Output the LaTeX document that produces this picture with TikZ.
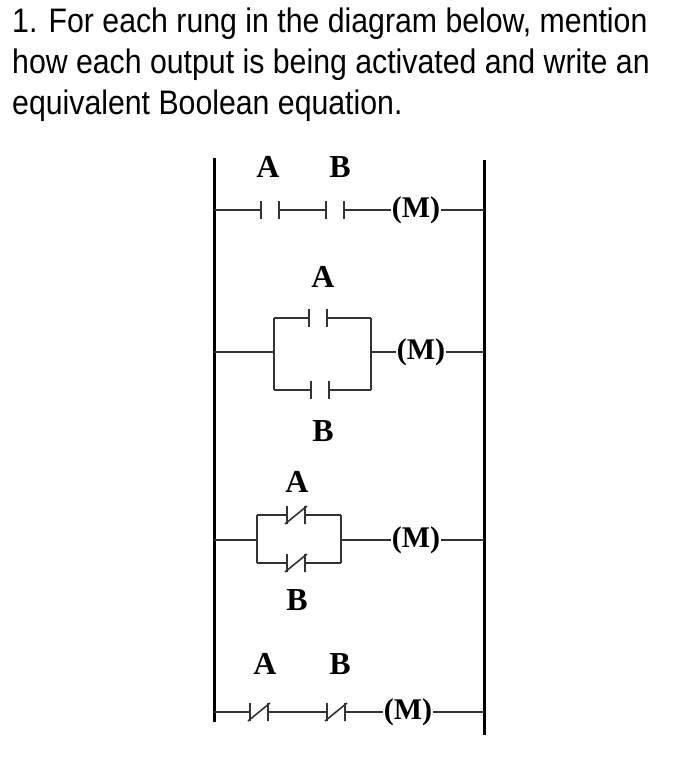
\documentclass[tikz,border=0pt]{standalone}
\usepackage{fontspec}
\setmainfont[FakeStretch=0.89]{Liberation Sans}
\newfontfamily\lserif{Liberation Serif}
\begin{document}
\begin{tikzpicture}[x=1pt,y=-1pt,
  wire/.style={line width=1.6pt,color=black!80},
  rail/.style={line width=3pt},
  lbl/.style={font=\lserif\bfseries\fontsize{32}{32}\selectfont,inner sep=0},
  coil/.style={font=\lserif\bfseries\fontsize{30}{30}\selectfont,inner sep=1pt},
  head/.style={anchor=north west,align=left,inner sep=0,font=\fontsize{34}{41}\selectfont}]
\useasboundingbox (0,0) rectangle (688,758);
\node[head] (h) at (12,8) {1. For each rung in the diagram below, mention\\how each output is being activated and write an\\equivalent Boolean equation.};
\coordinate (lt) at (214,158); \coordinate (lb) at (214,722);
\coordinate (rt) at (484,160); \coordinate (rb) at (484,735);
\draw[rail] (lt) -- (lb); \draw[rail] (rt) -- (rb);
\tikzset{
 no/.pic={\draw[wire] (-9,-9)--(-9,9) (9,-9)--(9,9);},
 nc/.pic={\draw[wire] (-9,-9)--(-9,9) (9,-9)--(9,9) (-11,9)--(11,-9);}}
% Rung 1
\node[coil] (c1) at (416,210) {(M)};
\pic at (270,210) {no}; \pic at (335,210) {no};
\draw[wire] (214,210)--(261,210) (279,210)--(326,210) (344,210)--(c1.west) (c1.east)--(484,210);
\node[lbl] (a1) at (268,167) {A}; \node[lbl] (b1) at (340,167) {B};
% Rung 2
\node[coil] (c2) at (421,352) {(M)};
\pic at (318,318) {no}; \pic at (320,390) {no};
\draw[wire] (214,352)--(274,352) (274,318)--(274,390) (274,318)--(309,318) (327,318)--(371,318)
 (274,390)--(311,390) (329,390)--(371,390) (371,318)--(371,390) (371,352)--(c2.west) (c2.east)--(484,352);
\node[lbl] (a2) at (323,277) {A}; \node[lbl] (b2) at (323,431) {B};
% Rung 3
\node[coil] (c3) at (416,540) {(M)};
\pic at (296,515) {nc}; \pic at (296,563) {nc};
\draw[wire] (214,540)--(257,540) (257,515)--(257,563) (257,515)--(287,515) (305,515)--(341,515)
 (257,563)--(287,563) (305,563)--(341,563) (341,515)--(341,563) (341,540)--(c3.west) (c3.east)--(484,540);
\node[lbl] (a3) at (297,482) {A}; \node[lbl] (b3) at (297,600) {B};
% Rung 4
\node[coil] (c4) at (408,712) {(M)};
\pic at (259,712) {nc}; \pic at (336,712) {nc};
\draw[wire] (214,712)--(250,712) (268,712)--(327,712) (345,712)--(c4.west) (c4.east)--(484,712);
\node[lbl] (a4) at (265,664) {A}; \node[lbl] (b4) at (340,664) {B};
\end{tikzpicture}
\end{document}
